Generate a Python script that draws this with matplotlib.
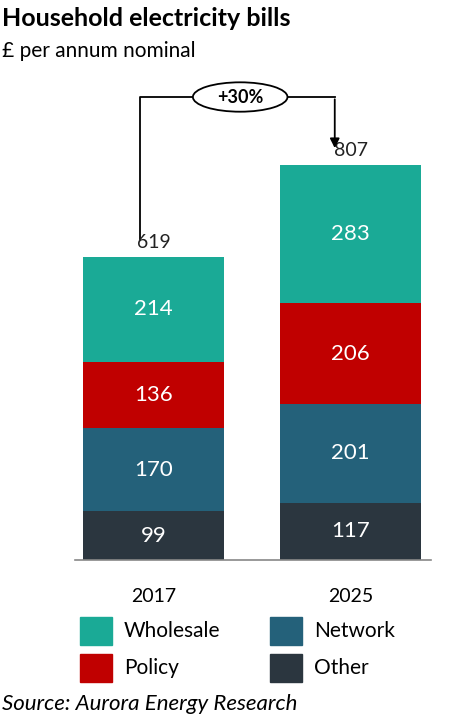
import matplotlib
matplotlib.use("Agg")
import matplotlib.pyplot as plt
from matplotlib.patches import Ellipse, Rectangle

years = ["2017", "2025"]
components = ["Other", "Network", "Policy", "Wholesale"]
values = {
    "Other": [99, 117],
    "Network": [170, 201],
    "Policy": [136, 206],
    "Wholesale": [214, 283],
}
totals = [619, 807]
colors = {"Wholesale": "#1aaa96", "Policy": "#c00000", "Network": "#24617a", "Other": "#2b363f"}

plt.rcParams['font.family'] = ['Lato', 'DejaVu Sans']
fig = plt.figure(figsize=(4.51, 7.28), dpi=100)
ax = fig.add_axes([0, (728-560)/728, 1, 560/728])
ax.set_xlim(-0.779, 1.510)
ax.set_ylim(0, 1143)
ax.axis('off')

x = [0, 1]
bottom = [0, 0]
for c in components:
    ax.bar(x, values[c], bottom=bottom, width=0.716, color=colors[c])
    for i in range(2):
        ax.text(x[i], bottom[i] + values[c][i] / 2, str(values[c][i]), ha='center', va='center',
                color='white', fontsize=16)
    bottom = [b + v for b, v in zip(bottom, values[c])]
for i in range(2):
    ax.text(x[i], totals[i] + 12, str(totals[i]), ha='center', va='bottom', fontsize=14, color='#222222')
ax.plot([-0.40, 1.41], [0, 0], color='#888888', lw=1.2, clip_on=False)

# growth arrow
ax.plot([-0.069, -0.069, 0.92], [655, 945, 945], color='black', lw=1.3)
ax.annotate('', xy=(0.92, 835), xytext=(0.92, 946),
            arrowprops=dict(arrowstyle='-|>', color='black', lw=1.3, mutation_scale=14))
ell = Ellipse((0.44, 945), 0.48, 60, facecolor='white', edgecolor='black', lw=1.3, zorder=3)
ax.add_patch(ell)
ax.text(0.44, 945, "+30%", ha='center', va='center', fontsize=13, fontweight='bold', zorder=4)

for i, y in enumerate(years):
    fig.text(153.5/451 + i*197/451, 1 - 597/728, y, ha='center', va='center', fontsize=14)

fig.text(0.005, 1 - 18/728, "Household electricity bills", fontsize=18, fontweight='bold', va='center')
fig.text(0.005, 1 - 51/728, "£ per annum nominal", fontsize=15, va='center')

legend = [("Wholesale", 80, 631), ("Network", 270, 631), ("Policy", 80, 668), ("Other", 270, 668)]
for name, px, py in legend:
    fig.patches.append(Rectangle((px/451, 1 - (py+14)/728), 32/451, 28/728,
                                 transform=fig.transFigure, color=colors[name]))
    fig.text((px + 44)/451, 1 - py/728, name, fontsize=15, va='center')

fig.text(0.005, 1 - 704/728, "Source: Aurora Energy Research", fontsize=16, style='italic', va='center')

fig.savefig("out.png", dpi=100)
